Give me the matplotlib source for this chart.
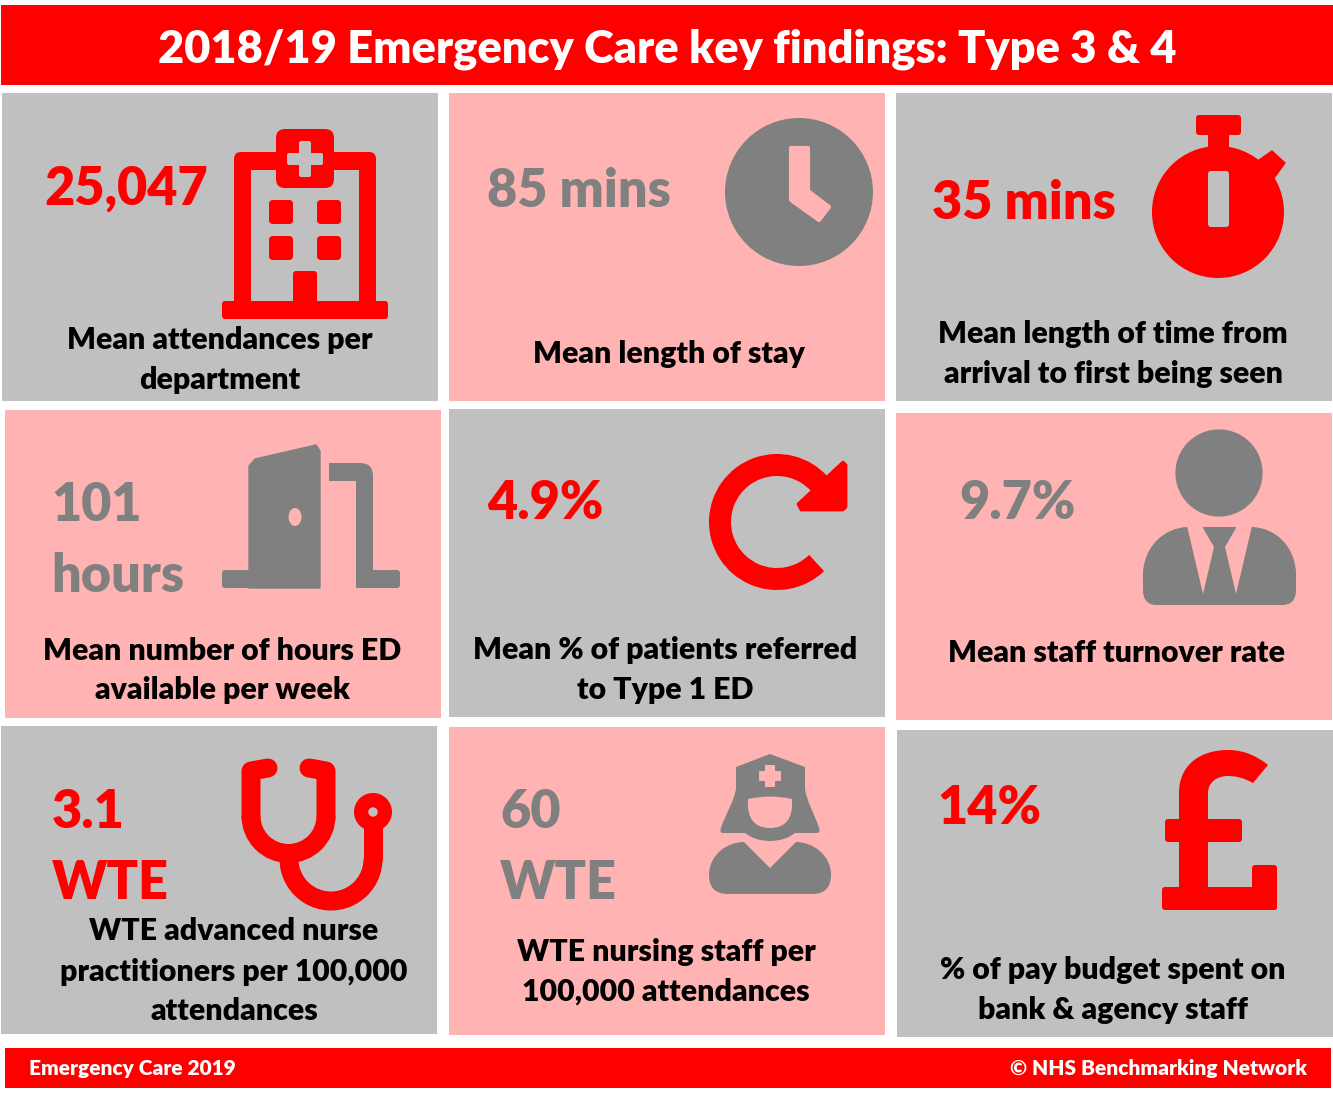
import matplotlib
matplotlib.use("Agg")
import matplotlib.pyplot as plt
from matplotlib.patches import Rectangle, Circle, Ellipse, Polygon, PathPatch, FancyBboxPatch, Arc
from matplotlib.path import Path

# --- CONTENT ---
title = "2018/19 Emergency Care key findings: Type 3 & 4"
footer_left = "Emergency Care 2019"
footer_right = "© NHS Benchmarking Network"
values = [["25,047"], ["85 mins"], ["35 mins"],
          ["101", "hours"], ["4.9%"], ["9.7%"],
          ["3.1", "WTE"], ["60", "WTE"], ["14%"]]
captions = [["Mean attendances per", "department"],
            ["Mean length of stay"],
            ["Mean length of time from", "arrival to first being seen"],
            ["Mean number of hours ED", "available per week"],
            ["Mean % of patients referred", "to Type 1 ED"],
            ["Mean staff turnover rate"],
            ["WTE advanced nurse", "practitioners per 100,000", "attendances"],
            ["WTE nursing staff per", "100,000 attendances"],
            ["% of pay budget spent on", "bank & agency staff"]]

# --- LAYOUT (pixels of the 1333x1096 picture) ---
RED = "#FF0000"
GREY = "#C0C0C0"
PINK = "#FFB3B3"
DARK = "#808080"
WEIGHT = 800
panels = [(2, 93, 438, 401), (449, 93, 885, 401), (896, 93, 1332, 401),
          (5, 410, 441, 718), (449, 409, 885, 717), (896, 413, 1332, 720),
          (1, 726, 437, 1034), (449, 727, 885, 1035), (897, 730, 1333, 1037)]
panel_colors = [GREY, PINK, GREY, PINK, GREY, PINK, GREY, PINK, GREY]
value_colors = [RED, DARK, RED, DARK, RED, DARK, RED, DARK, RED]
value_x = [44, 487, 932, 51, 487, 959, 52, 500, 937]
value_y = [204, 207, 219, 521, 519, 519, 828, 828, 824]
caption_x = [220, 669, 1113, 222, 665, 1117, 234, 666, 1113]
caption_y = [348.5, 363.5, 342.5, 659.5, 658.5, 661.5, 940.5, 960.5, 979.5]

fig = plt.figure(figsize=(13.33, 10.96), dpi=100)
ax = fig.add_axes([0, 0, 1, 1])
ax.set_xlim(0, 1333)
ax.set_ylim(1096, 0)
ax.axis("off")
plt.rcParams["font.family"] = ["Lato", "DejaVu Sans"]


def box(x0, y0, x1, y1, color, r=0):
    if r == 0:
        ax.add_patch(Rectangle((x0, y0), x1 - x0, y1 - y0, fc=color, lw=0))
    else:
        ax.add_patch(FancyBboxPatch((x0, y0), x1 - x0, y1 - y0, fc=color, lw=0,
                                    boxstyle="round,pad=0,rounding_size=%g" % r))


def poly(points, color, lw=0):
    ax.add_patch(Polygon(points, closed=True, fc=color, ec=color, lw=lw, joinstyle="round"))


def disc(x, y, r, color):
    ax.add_patch(Circle((x, y), r, fc=color, lw=0))


def shape(verts, codes, color):
    ax.add_patch(PathPatch(Path(verts, codes), fc=color, lw=0))


def stroke(xs, ys, width, color, cap="round"):
    ax.plot(xs, ys, color=color, lw=width * 0.72, solid_capstyle=cap, solid_joinstyle="round")


def arc(x, y, r, start, end, width, color):
    # angles in degrees, measured on the inverted y axis
    ax.add_patch(Arc((x, y), 2 * r, 2 * r, theta1=start, theta2=end, ec=color, lw=width * 0.72))


# --- ICONS ---
def hospital(c, bg):
    box(234, 152, 376, 310, c, 7)
    box(251, 170, 359, 301, bg)
    box(276, 129, 334, 188, c, 9)
    box(287, 153, 323, 165, bg, 2)
    box(299, 141, 311, 177, bg, 2)
    for x in (269, 317):
        for y in (200, 236):
            box(x, y, x + 24, y + 24, c, 4)
    box(293, 271, 317, 305, c, 3)
    box(222, 301, 388, 319, c, 3)


def clock(c, bg):
    disc(799, 192, 74, c)
    poly([(791, 148), (808, 148), (808, 191), (829, 207), (819, 220), (791, 200)], bg, lw=3)


def stopwatch(c, bg):
    disc(1218, 212, 66, c)
    box(1196, 115, 1241, 135, c, 3)
    box(1208, 130, 1229, 155, c)
    poly([(1259, 160), (1272, 151), (1285, 163), (1274, 178)], c, lw=1)
    box(1208, 171, 1229, 227, bg, 3)


def door(c, bg):
    poly([(249, 466), (255, 459), (316, 445), (320, 451), (320, 588), (249, 588)], c, lw=1)
    ax.add_patch(Ellipse((295, 517), 13, 18, fc=bg, lw=0))
    box(222, 570, 320, 588, c, 3)
    shape([(329, 463), (360, 463), (373, 463), (373, 476), (373, 588), (356, 588), (356, 481), (329, 481), (329, 463)],
          [Path.MOVETO, Path.LINETO, Path.CURVE3, Path.CURVE3, Path.LINETO, Path.LINETO, Path.LINETO, Path.LINETO, Path.CLOSEPOLY], c)
    box(356, 570, 400, 588, c, 3)


def refresh(c, bg):
    arc(777, 522, 57, 46, 318, 22, c)
    poly([(843, 462), (846, 465), (846, 507), (843, 510), (801, 510), (798, 504)], c, lw=2)


def person(c, bg):
    disc(1219, 473, 43.6, c)
    shape([(1143, 572), (1145, 545), (1165, 528), (1187, 527), (1252, 527), (1275, 528), (1294, 545), (1296, 572),
           (1296, 590), (1296, 605), (1282, 605), (1157, 605), (1143, 605), (1143, 590), (1143, 572)],
          [Path.MOVETO, Path.CURVE4, Path.CURVE4, Path.CURVE4, Path.LINETO, Path.CURVE4, Path.CURVE4, Path.CURVE4,
           Path.LINETO, Path.CURVE3, Path.CURVE3, Path.LINETO, Path.CURVE3, Path.CURVE3, Path.CLOSEPOLY], c)
    poly([(1187, 526), (1203, 594), (1214, 547), (1203, 528), (1203, 526)], bg)
    poly([(1252, 526), (1236, 594), (1225, 547), (1236, 528), (1236, 526)], bg)


def stethoscope(c, bg):
    # outer tube
    arc(331, 859, 42, 0, 180, 19, c)
    stroke([289, 289], [850, 860], 19, c, "butt")
    stroke([373, 373], [825, 860], 19, c, "butt")
    # U part
    arc(288.5, 816, 37.5, 0, 180, 19, c)
    stroke([268, 251, 251], [768, 771, 817], 19, c)
    stroke([309, 326, 326], [768, 771, 817], 19, c)
    disc(373, 812, 19, c)
    disc(373, 812, 4.7, bg)


def nurse(c, bg):
    shape([(770, 754), (805, 767), (805, 788), (806, 800), (815, 815), (819, 828), (821, 833), (816, 833), (795, 833),
           (785, 841), (770, 841), (755, 841), (745, 833), (723, 833), (719, 833), (721, 828),
           (725, 815), (735, 800), (736, 788), (736, 767), (770, 754)],
          [Path.MOVETO, Path.LINETO, Path.LINETO, Path.CURVE4, Path.CURVE4, Path.CURVE4, Path.CURVE3, Path.CURVE3, Path.LINETO,
           Path.CURVE3, Path.CURVE3, Path.CURVE3, Path.CURVE3, Path.LINETO, Path.CURVE3, Path.CURVE3,
           Path.CURVE4, Path.CURVE4, Path.CURVE4, Path.LINETO, Path.CLOSEPOLY], c)
    shape([(748, 799), (770, 794), (792, 799), (794, 828), (770, 828), (746, 828), (748, 799)],
          [Path.MOVETO, Path.CURVE3, Path.CURVE3, Path.CURVE3, Path.CURVE3, Path.CURVE3, Path.CURVE3], bg)
    box(759, 771, 781, 781, bg, 1)
    box(765, 765, 775, 787, bg, 1)
    shape([(709, 875), (709, 855), (727, 842), (744, 842), (770, 868), (796, 842), (813, 842), (831, 855), (831, 875),
           (831, 894), (812, 894), (728, 894), (709, 894), (709, 875)],
          [Path.MOVETO, Path.CURVE4, Path.CURVE4, Path.CURVE4, Path.LINETO, Path.LINETO, Path.CURVE4, Path.CURVE4, Path.CURVE4,
           Path.CURVE3, Path.CURVE3, Path.LINETO, Path.CURVE3, Path.CLOSEPOLY], c)


def pound(c, bg):
    shape([(1179, 890), (1179, 793), (1179, 765), (1200, 750), (1228, 750), (1245, 750), (1258, 757), (1268, 765),
           (1253, 783), (1244, 778), (1236, 776), (1228, 776), (1216, 776), (1208, 783), (1208, 793), (1208, 890), (1179, 890)],
          [Path.MOVETO, Path.LINETO, Path.CURVE4, Path.CURVE4, Path.CURVE4, Path.CURVE4, Path.CURVE4, Path.CURVE4,
           Path.LINETO, Path.CURVE4, Path.CURVE4, Path.CURVE4, Path.CURVE4, Path.CURVE4, Path.CURVE4, Path.LINETO, Path.CLOSEPOLY], c)
    box(1165, 819, 1242, 842, c, 3)
    box(1162, 887, 1277, 910, c, 3)
    box(1252, 865, 1277, 910, c, 3)


icons = [hospital, clock, stopwatch, door, refresh, person, stethoscope, nurse, pound]

# --- DRAWING ---
box(1, 5, 1333, 85, RED)
box(5, 1048, 1331, 1088, RED)
ax.text(667, 62.5, title, color="white", fontsize=32.5, fontweight=WEIGHT, ha="center", va="baseline")
ax.text(29, 1075, footer_left, color="white", fontsize=15, fontweight=WEIGHT, va="baseline")
ax.text(1307, 1075, footer_right, color="white", fontsize=15, fontweight=WEIGHT, ha="right", va="baseline")

for i in range(9):
    x0, y0, x1, y1 = panels[i]
    box(x0, y0, x1, y1, panel_colors[i])
    icons[i](value_colors[i], panel_colors[i])
    for j, line in enumerate(values[i]):
        ax.text(value_x[i], value_y[i] + 71 * j, line, color=value_colors[i], fontsize=37.5,
                fontweight=WEIGHT, va="baseline")
    for j, line in enumerate(captions[i]):
        ax.text(caption_x[i], caption_y[i] + 40 * j, line, color="black", fontsize=21.8,
                fontweight=WEIGHT, ha="center", va="baseline")

fig.savefig("out.png", dpi=100, facecolor="white")
